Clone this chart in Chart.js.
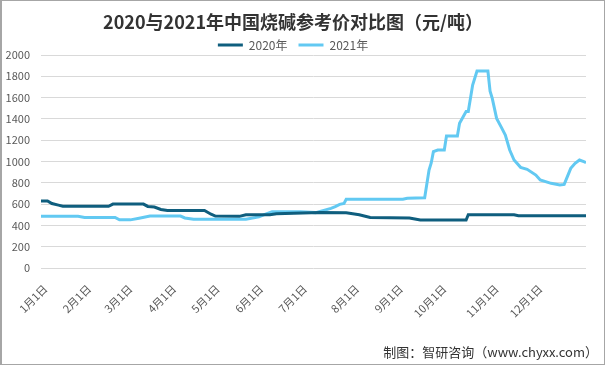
<!DOCTYPE html>
<html>
<head>
<meta charset="utf-8">
<script src="https://cdn.jsdelivr.net/npm/chart.js@4.4.1/dist/chart.umd.min.js"></script>
<style>
    body { margin: 0; background: #fff; }
    #wrap { width: 605px; height: 365px; position: relative; }
</style>
</head>
<body>
<div id="wrap"><canvas id="priceChart"></canvas></div>
<script>
// Dados (posição em dias úteis, preço em 元/吨)
const days2020 = [0, 3, 5, 8, 10, 31, 33, 47, 49, 52, 55, 58, 75, 78, 80, 91, 94, 105, 108, 128, 140, 146, 151, 169, 174, 195, 196, 217, 219, 250];
const price2020 = [630, 630, 605, 590, 580, 580, 600, 600, 578, 572, 550, 540, 540, 505, 488, 485, 500, 500, 510, 520, 518, 500, 475, 470, 450, 450, 500, 500, 490, 490];

const days2021 = [0, 17, 20, 34, 36, 41, 45, 50, 64, 66, 70, 94, 100, 103, 106, 119, 126, 133, 135, 137, 139, 140, 166, 168, 176, 178, 179, 180, 182, 185, 186, 191, 192, 195, 196, 198, 200, 205, 206, 207, 209, 211, 213, 215, 217, 220, 223, 227, 229, 234, 238, 240, 243, 245, 247, 249, 250];
const price2021 = [485, 485, 475, 475, 452, 452, 467, 488, 488, 470, 457, 457, 480, 505, 527, 527, 520, 560, 576, 598, 607, 645, 645, 655, 660, 920, 986, 1092, 1108, 1108, 1239, 1239, 1359, 1469, 1469, 1718, 1850, 1850, 1660, 1593, 1405, 1327, 1249, 1108, 1014, 945, 927, 873, 826, 795, 779, 785, 936, 983, 1014, 998, 990];

const monthPos = [2, 22, 41, 61, 81, 101, 121, 145, 165, 185, 209, 229];
const monthLabels = ['1月1日', '2月1日', '3月1日', '4月1日', '5月1日', '6月1日', '7月1日', '8月1日', '9月1日', '10月1日', '11月1日', '12月1日'];

const seriesNames = ['2020年', '2021年'];
const yTicks = [0, 200, 400, 600, 800, 1000, 1200, 1400, 1600, 1800, 2000];

const FONT = '"Noto Sans CJK SC", "Noto Sans", sans-serif';

function toPoints(xs, ys) {
    return xs.map((x, i) => ({ x: x, y: ys[i] }));
}

// moldura e crédito
const extras = {
    id: 'extras',
    beforeInit(chart) {
        // legenda mais baixa para o gráfico começar na altura certa
        const fit = chart.legend.fit;
        chart.legend.fit = function () {
            fit.bind(chart.legend)();
            this.height = 27;
        };
    },
    afterDraw(chart) {
        const ctx = chart.ctx;
        ctx.save();
        ctx.font = '13px ' + FONT;
        ctx.fillStyle = '#333';
        ctx.textAlign = 'right';
        ctx.textBaseline = 'middle';
        ctx.fillText('制图：智研咨询（www.chyxx.com）', 598, 352);
        ctx.strokeStyle = '#a6a6a6';
        ctx.lineWidth = 1;
        ctx.strokeRect(0.5, 0.5, 604, 364);
        ctx.beginPath();
        ctx.moveTo(1.5, 0);
        ctx.lineTo(1.5, 365);
        ctx.stroke();
        ctx.restore();
    }
};

const ctx = document.getElementById('priceChart').getContext('2d');
const priceChart = new Chart(ctx, {
    type: 'line',
    data: {
        datasets: [{
            label: seriesNames[0],
            data: toPoints(days2020, price2020),
            borderColor: '#0F5E7E',
            backgroundColor: '#0F5E7E',
            borderWidth: 3,
            pointRadius: 0,
            tension: 0
        }, {
            label: seriesNames[1],
            data: toPoints(days2021, price2021),
            borderColor: '#62C9F2',
            backgroundColor: '#62C9F2',
            borderWidth: 3,
            pointRadius: 0,
            tension: 0
        }]
    },
    options: {
        responsive: true,
        maintainAspectRatio: false,
        animation: false,
        layout: { padding: { top: 4, left: 0, right: 19, bottom: 47 } },
        plugins: {
            title: {
                display: true,
                text: '2020与2021年中国烧碱参考价对比图（元/吨）',
                color: '#333',
                font: { family: FONT, size: 18, weight: 'bold', lineHeight: '12px' },
                padding: { top: 12, bottom: 0 }
            },
            legend: {
                labels: {
                    usePointStyle: true,
                    pointStyle: 'line',
                    pointStyleWidth: 25,
                    padding: 11,
                    color: '#595959',
                    font: { family: FONT, size: 12 }
                }
            },
            tooltip: { enabled: false }
        },
        scales: {
            x: {
                type: 'linear',
                min: 0,
                max: 250,
                grid: { display: false },
                border: { display: false },
                afterBuildTicks: scale => {
                    scale.ticks = monthPos.map(v => ({ value: v }));
                },
                afterFit: scale => { scale.height = 50; },
                ticks: {
                    autoSkip: false,
                    maxRotation: 45,
                    minRotation: 45,
                    padding: 6,
                    color: '#595959',
                    font: { family: FONT, size: 11 },
                    callback: (value, index) => monthLabels[index]
                }
            },
            y: {
                min: 0,
                max: 2000,
                afterBuildTicks: scale => {
                    scale.ticks = yTicks.map(v => ({ value: v }));
                },
                afterFit: scale => { scale.width = 41; },
                grid: { color: '#d9d9d9', drawTicks: false },
                border: { display: false },
                ticks: {
                    padding: 11,
                    color: '#595959',
                    font: { family: FONT, size: 11 },
                    callback: value => String(value)
                }
            }
        }
    },
    plugins: [extras]
});
</script>
</body>
</html>
